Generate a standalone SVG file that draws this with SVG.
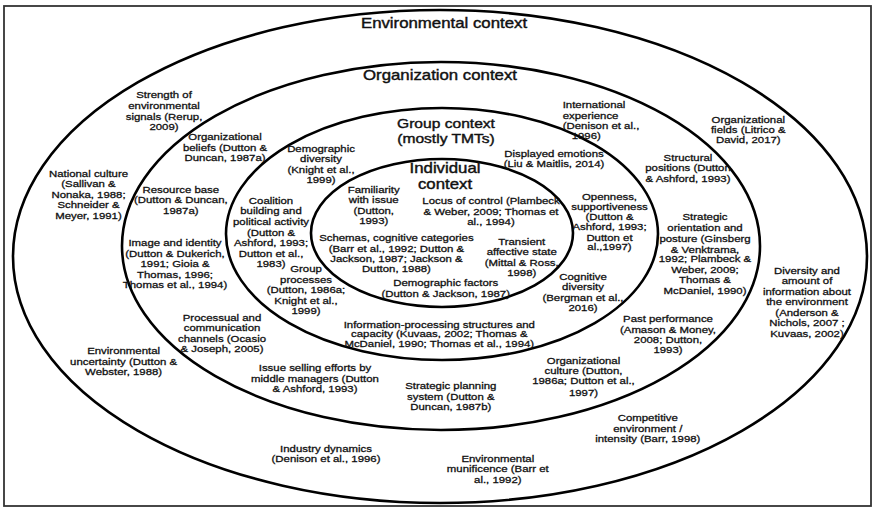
<svg xmlns="http://www.w3.org/2000/svg" width="882" height="512" viewBox="0 0 882 512">
<style>
.frame{fill:#fff;stroke:#333;stroke-width:1.8}
.ring{fill:none;stroke:#000;stroke-width:2.6}
text{font-family:"Liberation Sans",Arial,sans-serif;fill:#111;stroke:#111;stroke-width:0.3;text-anchor:middle}
.t{font-size:9.5px}
.h{font-size:14px;stroke-width:0.4}
.g{font-size:13px;stroke-width:0.4}
.l{text-anchor:start}
</style>
<rect class="frame" x="4" y="6" width="867" height="500"/>
<g id="rings">
<ellipse class="ring" cx="440" cy="256.5" rx="427" ry="246.5"/>
<ellipse class="ring" cx="441" cy="246" rx="319" ry="184"/>
<ellipse class="ring" cx="442" cy="234" rx="216" ry="126"/>
<ellipse class="ring" cx="442" cy="233" rx="131" ry="74"/>
</g>
<g id="connectors"></g>
<g id="environmental-context" transform="translate(444,0) scale(1.2,1)"><text class="h"><tspan x="0" y="27.7">Environmental context</tspan></text></g>
<g id="organization-context" transform="translate(440,0) scale(1.2,1)"><text class="h"><tspan x="0" y="80">Organization context</tspan></text></g>
<g id="group-context" transform="translate(446,0) scale(1.2,1)"><text class="g"><tspan x="0" y="128">Group context</tspan><tspan x="0" y="143">(mostly TMTs)</tspan></text></g>
<g id="individual-context" transform="translate(445,0) scale(1.2,1)"><text class="h"><tspan x="0" y="173.3">Individual</tspan><tspan x="0" y="189">context</tspan></text></g>

<g id="strength-signals" transform="translate(164,0) scale(1.2,1)"><text class="t"><tspan x="0" y="97.6">Strength of</tspan><tspan x="0" y="109.3">environmental</tspan><tspan x="0" y="120">signals (Rerup,</tspan><tspan x="0" y="130.3">2009)</tspan></text></g>
<g id="organizational-beliefs" transform="translate(225,0) scale(1.2,1)"><text class="t"><tspan x="0" y="140">Organizational</tspan><tspan x="0" y="151">beliefs (Dutton &amp;</tspan><tspan x="0" y="160.6">Duncan, 1987a)</tspan></text></g>
<g id="national-culture" transform="translate(88.5,0) scale(1.2,1)"><text class="t"><tspan x="0" y="177.3">National culture</tspan><tspan x="0" y="187.3">(Sallivan &amp;</tspan><tspan x="0" y="197.6">Nonaka, 1988;</tspan><tspan x="0" y="208">Schneider &amp;</tspan><tspan x="0" y="218.6">Meyer, 1991)</tspan></text></g>
<g id="international-experience" transform="translate(562.7,0) scale(1.2,1)"><text class="t l"><tspan x="0" y="108.3">International</tspan><tspan x="0" y="119">experience</tspan><tspan x="0" y="129">(Denison et al.,</tspan><tspan x="7.5" y="139">1996)</tspan></text></g>
<g id="displayed-emotions" transform="translate(554,0) scale(1.2,1)"><text class="t"><tspan x="0" y="156.6">Displayed emotions</tspan><tspan x="0" y="167.3">(Liu &amp; Maitlis, 2014)</tspan></text></g>
<g id="organizational-fields" transform="translate(748.3,0) scale(1.2,1)"><text class="t"><tspan x="0" y="122.6">Organizational</tspan><tspan x="0" y="133.3">fields (Litrico &amp;</tspan><tspan x="0" y="143.3">David, 2017)</tspan></text></g>
<g id="structural-positions" transform="translate(688,0) scale(1.2,1)"><text class="t"><tspan x="0" y="160.6">Structural</tspan><tspan x="0" y="171">positions (Dutton</tspan><tspan x="0" y="181.6">&amp; Ashford, 1993)</tspan></text></g>
<g id="demographic-diversity" transform="translate(321,0) scale(1.2,1)"><text class="t"><tspan x="0" y="151.6">Demographic</tspan><tspan x="0" y="162.3">diversity</tspan><tspan x="0" y="173.3">(Knight et al.,</tspan><tspan x="0" y="183.3">1999)</tspan></text></g>
<g id="coalition-building" transform="translate(271,0) scale(1.2,1)"><text class="t"><tspan x="0" y="204">Coalition</tspan><tspan x="0" y="214.3">building and</tspan><tspan x="0" y="225">political activity</tspan><tspan x="0" y="236">(Dutton &amp;</tspan><tspan x="0" y="246">Ashford, 1993;</tspan><tspan x="0" y="256.6">Dutton et al.,</tspan><tspan x="0" y="266.6">1983)</tspan></text></g>
<g id="group-processes" transform="translate(306,0) scale(1.2,1)"><text class="t"><tspan x="0" y="271.6">Group</tspan><tspan x="0" y="283.3">processes</tspan><tspan x="0" y="293.3">(Dutton, 1986a;</tspan><tspan x="0" y="304">Knight et al.,</tspan><tspan x="0" y="314">1999)</tspan></text></g>
<g id="resource-base" transform="translate(180.8,0) scale(1.2,1)"><text class="t"><tspan x="0" y="193.3">Resource base</tspan><tspan x="0" y="203.3">(Dutton &amp; Duncan,</tspan><tspan x="0" y="214">1987a)</tspan></text></g>
<g id="image-identity" transform="translate(175,0) scale(1.2,1)"><text class="t"><tspan x="0" y="246">Image and identity</tspan><tspan x="0" y="256.6">(Dutton &amp; Dukerich,</tspan><tspan x="0" y="267">1991; Gioia &amp;</tspan><tspan x="0" y="277.6">Thomas, 1996;</tspan><tspan x="0" y="288.3">Thomas et al., 1994)</tspan></text></g>
<g id="processual-channels" transform="translate(222,0) scale(1.2,1)"><text class="t"><tspan x="0" y="321">Processual and</tspan><tspan x="0" y="331">communication</tspan><tspan x="0" y="341.6">channels (Ocasio</tspan><tspan x="0" y="351.6">&amp; Joseph, 2005)</tspan></text></g>
<g id="familiarity" transform="translate(373.7,0) scale(1.2,1)"><text class="t"><tspan x="0" y="192.6">Familiarity</tspan><tspan x="0" y="203.3">with issue</tspan><tspan x="0" y="214.3">(Dutton,</tspan><tspan x="0" y="224.3">1993)</tspan></text></g>
<g id="locus-of-control" transform="translate(491,0) scale(1.2,1)"><text class="t"><tspan x="0" y="204.3">Locus of control (Plambeck</tspan><tspan x="0" y="215">&amp; Weber, 2009; Thomas et</tspan><tspan x="0" y="225">al., 1994)</tspan></text></g>
<g id="schemas" transform="translate(396.4,0) scale(1.2,1)"><text class="t"><tspan x="0" y="241">Schemas, cognitive categories</tspan><tspan x="0" y="251.6">(Barr et al., 1992; Dutton &amp;</tspan><tspan x="0" y="261.6">Jackson, 1987; Jackson &amp;</tspan><tspan x="0" y="272">Dutton, 1988)</tspan></text></g>
<g id="transient-affective" transform="translate(521.7,0) scale(1.2,1)"><text class="t"><tspan x="0" y="245">Transient</tspan><tspan x="0" y="255">affective state</tspan><tspan x="0" y="266">(Mittal &amp; Ross,</tspan><tspan x="0" y="275.6">1998)</tspan></text></g>
<g id="demographic-factors" transform="translate(445.7,0) scale(1.2,1)"><text class="t"><tspan x="0" y="286">Demographic factors</tspan><tspan x="0" y="297.3">(Dutton &amp; Jackson, 1987)</tspan></text></g>
<g id="information-processing" transform="translate(439.3,0) scale(1.2,1)"><text class="t"><tspan x="0" y="327.6">Information-processing structures and</tspan><tspan x="0" y="337.3">capacity (Kuvaas, 2002; Thomas &amp;</tspan><tspan x="0" y="347.3">McDaniel, 1990; Thomas et al., 1994)</tspan></text></g>
<g id="openness" transform="translate(609.5,0) scale(1.2,1)"><text class="t"><tspan x="0" y="200">Openness,</tspan><tspan x="0" y="210">supportiveness</tspan><tspan x="0" y="220">(Dutton &amp;</tspan><tspan x="0" y="230">Ashford, 1993;</tspan><tspan x="0" y="240.6">Dutton et</tspan><tspan x="0" y="250">al.,1997)</tspan></text></g>
<g id="cognitive-diversity" transform="translate(583,0) scale(1.2,1)"><text class="t"><tspan x="0" y="280">Cognitive</tspan><tspan x="0" y="290">diversity</tspan><tspan x="0" y="301">(Bergman et al.,</tspan><tspan x="0" y="310.6">2016)</tspan></text></g>
<g id="strategic-orientation" transform="translate(705,0) scale(1.2,1)"><text class="t"><tspan x="0" y="220">Strategic</tspan><tspan x="0" y="230.6">orientation and</tspan><tspan x="0" y="241.6">posture (Ginsberg</tspan><tspan x="0" y="252.6">&amp; Venktrama,</tspan><tspan x="0" y="262.3">1992; Plambeck &amp;</tspan><tspan x="0" y="272.6">Weber, 2009;</tspan><tspan x="0" y="283.3">Thomas &amp;</tspan><tspan x="0" y="294">McDaniel, 1990)</tspan></text></g>
<g id="diversity-information" transform="translate(807,0) scale(1.2,1)"><text class="t"><tspan x="0" y="274">Diversity and</tspan><tspan x="0" y="284.3">amount of</tspan><tspan x="0" y="295">information about</tspan><tspan x="0" y="305">the environment</tspan><tspan x="0" y="316">(Anderson &amp;</tspan><tspan x="0" y="326">Nichols, 2007 ;</tspan><tspan x="0" y="336.6">Kuvaas, 2002)</tspan></text></g>
<g id="past-performance" transform="translate(668,0) scale(1.2,1)"><text class="t"><tspan x="0" y="322.3">Past performance</tspan><tspan x="0" y="333.3">(Amason &amp; Money,</tspan><tspan x="0" y="343.3">2008; Dutton,</tspan><tspan x="0" y="353.3">1993)</tspan></text></g>
<g id="organizational-culture" transform="translate(583.5,0) scale(1.2,1)"><text class="t"><tspan x="0" y="364">Organizational</tspan><tspan x="0" y="374.3">culture (Dutton,</tspan><tspan x="0" y="384.3">1986a; Dutton et al.,</tspan><tspan x="0" y="395.6">1997)</tspan></text></g>
<g id="environmental-uncertainty" transform="translate(123.6,0) scale(1.2,1)"><text class="t"><tspan x="0" y="354">Environmental</tspan><tspan x="0" y="365">uncertainty (Dutton &amp;</tspan><tspan x="0" y="375">Webster, 1988)</tspan></text></g>
<g id="issue-selling" transform="translate(315,0) scale(1.2,1)"><text class="t"><tspan x="0" y="370.6">Issue selling efforts by</tspan><tspan x="0" y="381.6">middle managers (Dutton</tspan><tspan x="0" y="391.6">&amp; Ashford, 1993)</tspan></text></g>
<g id="industry-dynamics" transform="translate(326,0) scale(1.2,1)"><text class="t"><tspan x="0" y="451.6">Industry dynamics</tspan><tspan x="0" y="462.3">(Denison et al., 1996)</tspan></text></g>
<g id="strategic-planning" transform="translate(450.8,0) scale(1.2,1)"><text class="t"><tspan x="0" y="389">Strategic planning</tspan><tspan x="0" y="400">system (Dutton &amp;</tspan><tspan x="0" y="410">Duncan, 1987b)</tspan></text></g>
<g id="environmental-munificence" transform="translate(497.8,0) scale(1.2,1)"><text class="t"><tspan x="0" y="462.3">Environmental</tspan><tspan x="0" y="472.3">munificence (Barr et</tspan><tspan x="0" y="482.6">al., 1992)</tspan></text></g>
<g id="competitive-environment" transform="translate(647.8,0) scale(1.2,1)"><text class="t"><tspan x="0" y="421">Competitive</tspan><tspan x="0" y="431.6">environment /</tspan><tspan x="0" y="442.3">intensity (Barr, 1998)</tspan></text></g>
</svg>
